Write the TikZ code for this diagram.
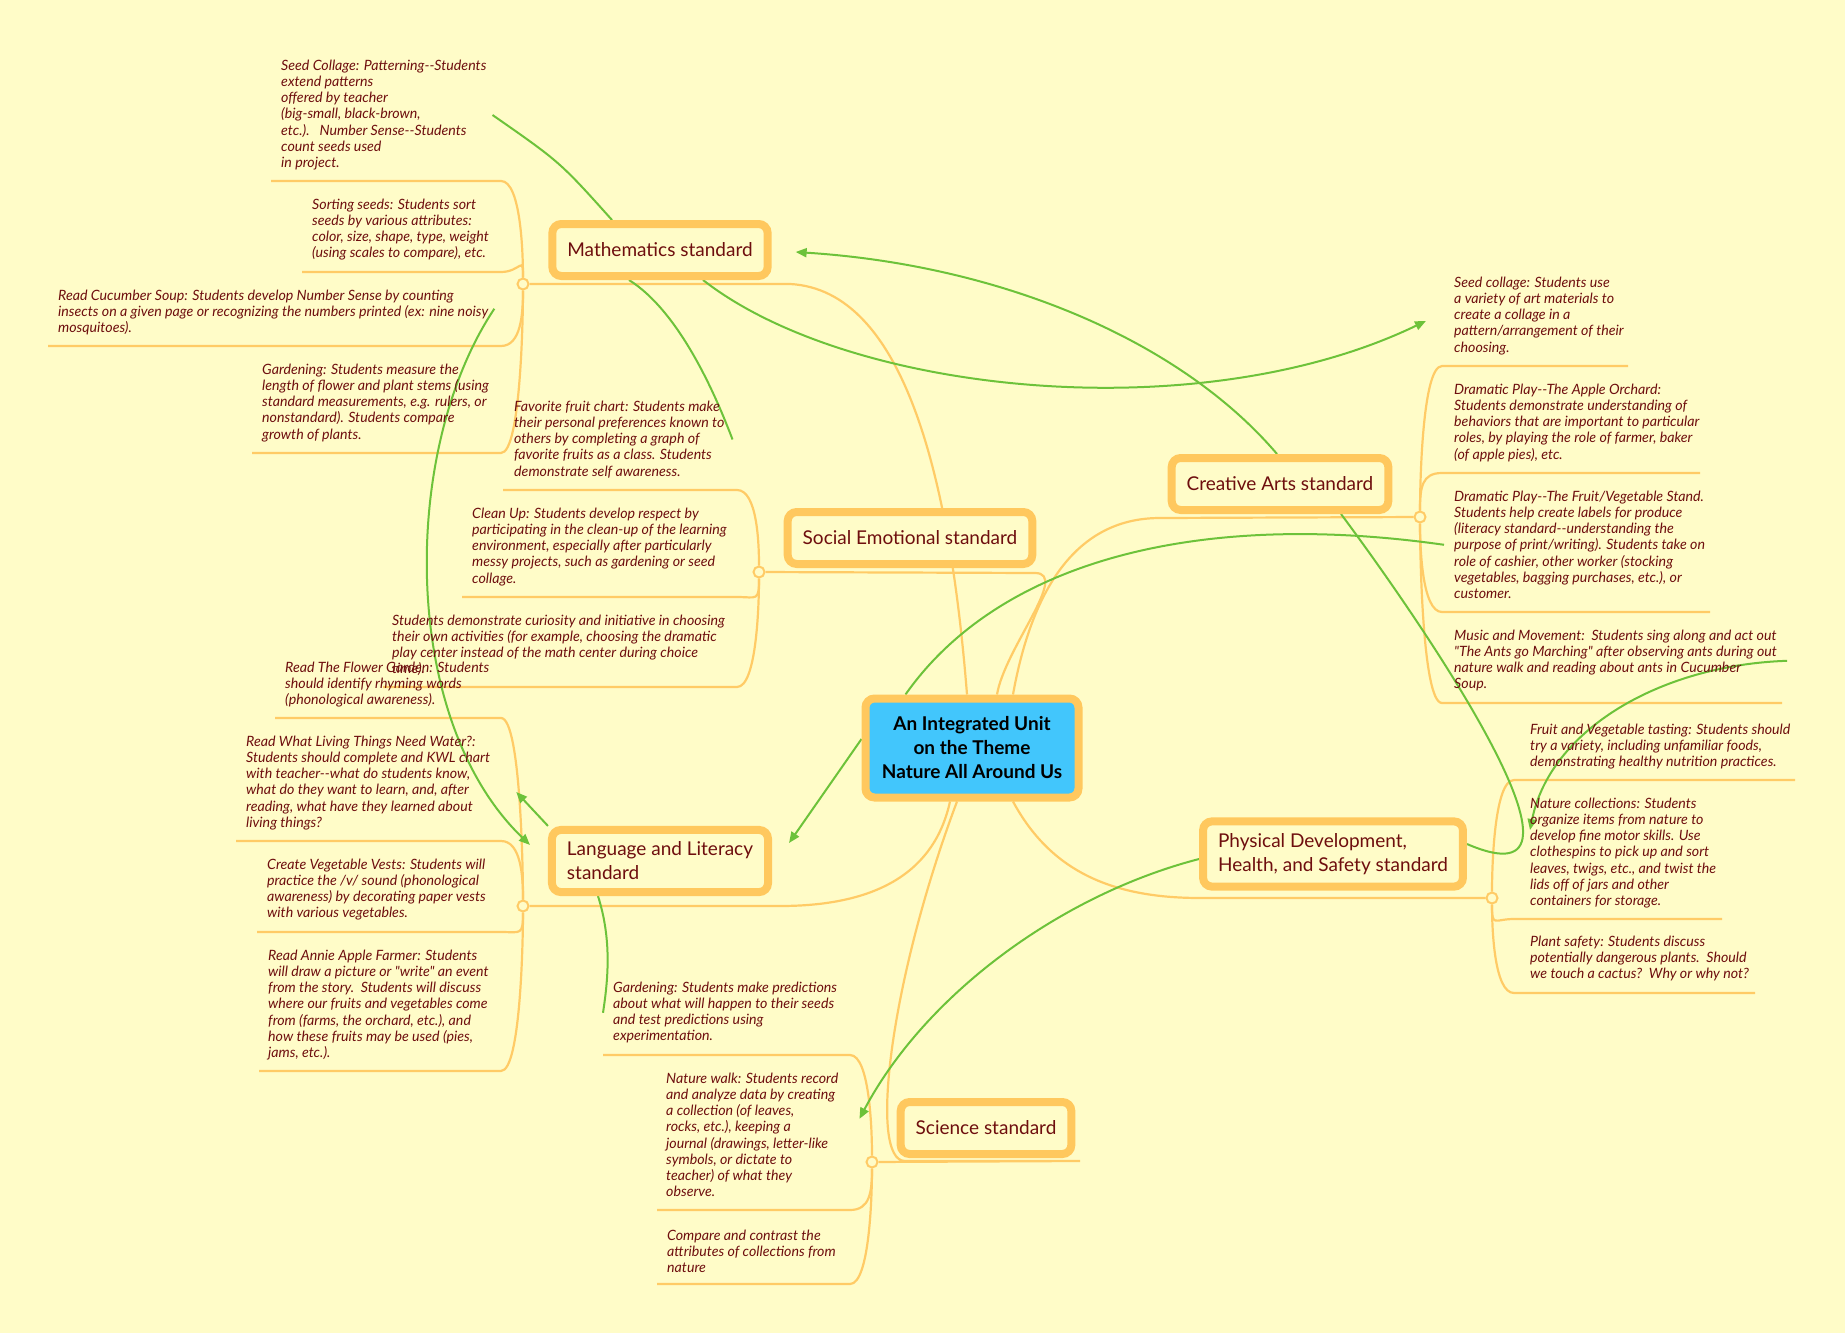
\documentclass[tikz,border=0pt]{standalone}
\usepackage{fontspec}
\setmainfont{Lato}
\newfontfamily\notefont{Lato}
\usetikzlibrary{arrows.meta}

\definecolor{bgyellow}{HTML}{FFFCC8}
\definecolor{boxorange}{HTML}{FFC85E}
\definecolor{branchorange}{HTML}{FFCB66}
\definecolor{textred}{HTML}{6E0E0E}
\definecolor{relgreen}{HTML}{6DC23A}
\definecolor{topicblue}{HTML}{42C6FC}

\pgfdeclarelayer{back}
\pgfdeclarelayer{lines}
\pgfsetlayers{back,lines,main}

\begin{document}
\begin{tikzpicture}[x=1pt,y=-1pt,
  stdbox/.style={draw=boxorange,line width=8pt,rounded corners=9pt,fill=bgyellow,text=textred,
    font=\fontsize{19}{24}\selectfont,inner xsep=15pt,inner ysep=12pt,minimum height=52pt,align=left},
  mainbox/.style={stdbox,fill=topicblue,text=black,font=\bfseries\fontsize{19}{24}\selectfont,
    align=center,minimum width=213pt,minimum height=99pt},
  itemtext/.style={anchor=north west,inner sep=0pt,text=textred,align=left,
    font=\notefont\itshape\fontsize{14.2}{16.1}\selectfont},
  branch/.style={draw=branchorange,line width=2.2pt},
  junc/.style={circle,draw=branchorange,line width=2pt,fill=bgyellow,minimum size=11pt,inner sep=0pt},
  rel/.style={draw=relgreen,line width=2pt},
  relarrow/.style={rel,-{Triangle[length=11pt,width=9pt]}}]

\begin{pgfonlayer}{back}
\fill[bgyellow] (0,0) rectangle (1845,1333);
\end{pgfonlayer}
\useasboundingbox (0,0) rectangle (1845,1333);

% central topic and the standards
\node[mainbox] (main) at (972,748) {An Integrated Unit\\on the Theme\\Nature All Around Us};
\node[stdbox] (math) at (660,250) {Mathematics standard};
\node[stdbox] (social) at (910,538) {Social Emotional standard};
\node[stdbox] (lang) at (660,861) {Language and Literacy\\standard};
\node[stdbox] (science) at (986,1128) {Science standard};
\node[stdbox] (arts) at (1280,484) {Creative Arts standard};
\node[stdbox] (phys) at (1333,854) {Physical Development,\\Health, and Safety standard};

% junctions
\node[junc] (mj) at (523,284) {};
\node[junc] (sj) at (759,572) {};
\node[junc] (lj) at (523,906) {};
\node[junc] (cj) at (872,1162) {};
\node[junc] (aj) at (1420,517) {};
\node[junc] (pj) at (1492,898) {};

% Mathematics
\node[itemtext] (m1) at (281,60) {Seed Collage: Patterning--Students\\extend patterns\\offered by teacher\\(big-small, black-brown,\\etc.).\ \ \ Number Sense--Students\\count seeds used\\in project.};
\node[itemtext] (m2) at (312,199) {Sorting seeds: Students sort\\seeds by various attributes:\\color, size, shape, type, weight\\(using scales to compare), etc.};
\node[itemtext] (m3) at (58,290) {Read Cucumber Soup: Students develop Number Sense by counting\\insects on a given page or recognizing the numbers printed (ex: nine noisy\\mosquitoes).};
\node[itemtext] (m4) at (262,364) {Gardening: Students measure the\\length of flower and plant stems (using\\standard measurements, e.g. rulers, or\\nonstandard). Students compare\\growth of plants.};

% Social Emotional
\node[itemtext] (s1) at (514,401) {Favorite fruit chart: Students make\\their personal preferences known to\\others by completing a graph of\\favorite fruits as a class. Students\\demonstrate self awareness.};
\node[itemtext] (s2) at (472,508) {Clean Up: Students develop respect by\\participating in the clean-up of the learning\\environment, especially after particularly\\messy projects, such as gardening or seed\\collage.};
\node[itemtext] (s3) at (392,615) {Students demonstrate curiosity and initiative in choosing\\their own activities (for example, choosing the dramatic\\play center instead of the math center during choice\\time).};

% Language and Literacy
\node[itemtext] (l1) at (285,662) {Read The Flower Garden: Students\\should identify rhyming words\\(phonological awareness).};
\node[itemtext] (l2) at (246,736) {Read What Living Things Need Water?:\\Students should complete and KWL chart\\with teacher--what do students know,\\what do they want to learn, and, after\\reading, what have they learned about\\living things?};
\node[itemtext] (l3) at (267,859) {Create Vegetable Vests: Students will\\practice the /v/ sound (phonological\\awareness) by decorating paper vests\\with various vegetables.};
\node[itemtext] (l4) at (268,950) {Read Annie Apple Farmer: Students\\will draw a picture or "write" an event\\from the story.\ \ Students will discuss\\where our fruits and vegetables come\\from (farms, the orchard, etc.), and\\how these fruits may be used (pies,\\jams, etc.).};

% Science
\node[itemtext] (c1) at (613,982) {Gardening: Students make predictions\\about what will happen to their seeds\\and test predictions using\\experimentation.};
\node[itemtext] (c2) at (666,1073) {Nature walk: Students record\\and analyze data by creating\\a collection (of leaves,\\rocks, etc.), keeping a\\journal (drawings, letter-like\\symbols, or dictate to\\teacher) of what they\\observe.};
\node[itemtext] (c3) at (667,1230) {Compare and contrast the\\attributes of collections from\\nature};

% Creative Arts
\node[itemtext] (a1) at (1454,277) {Seed collage: Students use\\a variety of art materials to\\create a collage in a\\pattern/arrangement of their\\choosing.};
\node[itemtext] (a2) at (1454,384) {Dramatic Play--The Apple Orchard:\\Students demonstrate understanding of\\behaviors that are important to particular\\roles, by playing the role of farmer, baker\\(of apple pies), etc.};
\node[itemtext] (a3) at (1454,491) {Dramatic Play--The Fruit/Vegetable Stand.\\Students help create labels for produce\\(literacy standard--understanding the\\purpose of print/writing). Students take on\\role of cashier, other worker (stocking\\vegetables, bagging purchases, etc.), or\\customer.};
\node[itemtext] (a4) at (1454,630) {Music and Movement:\ \ Students sing along and act out\\"The Ants go Marching" after observing ants during out\\nature walk and reading about ants in Cucumber\\Soup.};

% Physical Development
\node[itemtext] (p1) at (1530,724) {Fruit and Vegetable tasting: Students should\\try a variety, including unfamiliar foods,\\demonstrating healthy nutrition practices.};
\node[itemtext] (p2) at (1530,798) {Nature collections: Students\\organize items from nature to\\develop fine motor skills. Use\\clothespins to pick up and sort\\leaves, twigs, etc., and twist the\\lids off of jars and other\\containers for storage.};
\node[itemtext] (p3) at (1530,936) {Plant safety: Students discuss\\potentially dangerous plants.\ \ Should\\we touch a cactus?\ \ Why or why not?};

% underline ends
\coordinate (m1-u) at (501,181); \coordinate (m1-l) at (271,181);
\coordinate (m2-u) at (501,272); \coordinate (m2-l) at (302,272);
\coordinate (m3-u) at (501,346); \coordinate (m3-l) at (48,346);
\coordinate (m4-u) at (501,453); \coordinate (m4-l) at (252,453);
\coordinate (s1-u) at (737,490); \coordinate (s1-l) at (503,490);
\coordinate (s2-u) at (737,597); \coordinate (s2-l) at (462,597);
\coordinate (s3-u) at (737,687); \coordinate (s3-l) at (383,687);
\coordinate (l1-u) at (501,718); \coordinate (l1-l) at (275,718);
\coordinate (l2-u) at (501,841); \coordinate (l2-l) at (236,841);
\coordinate (l3-u) at (501,932); \coordinate (l3-l) at (257,932);
\coordinate (l4-u) at (501,1071); \coordinate (l4-l) at (259,1071);
\coordinate (c1-u) at (850,1055); \coordinate (c1-l) at (603,1055);
\coordinate (c2-u) at (850,1210); \coordinate (c2-l) at (657,1210);
\coordinate (c3-u) at (850,1284); \coordinate (c3-l) at (657,1284);
\coordinate (a1-u) at (1442,366); \coordinate (a1-l) at (1628,366);
\coordinate (a2-u) at (1442,473); \coordinate (a2-l) at (1700,473);
\coordinate (a3-u) at (1442,612); \coordinate (a3-l) at (1710,612);
\coordinate (a4-u) at (1442,703); \coordinate (a4-l) at (1782,703);
\coordinate (p1-u) at (1514,780); \coordinate (p1-l) at (1795,780);
\coordinate (p2-u) at (1514,919); \coordinate (p2-l) at (1722,919);
\coordinate (p3-u) at (1514,993); \coordinate (p3-l) at (1755,993);

\begin{pgfonlayer}{lines}
% topic connectors and underlines
\draw[branch] ([xshift=-5pt]main.north) .. controls (950,480) and (905,290) .. (790,284) -- (mj);
\draw[branch] ([xshift=25pt]main.north) .. controls (1005,648) and (1070,573) .. (1035,573) -- (sj);
\draw[branch] ([xshift=41pt]main.north) .. controls (1030,600) and (1070,518) .. (1160,518) -- (aj);
\draw[branch] ([xshift=-22pt]main.south) .. controls (935,870) and (880,906) .. (780,906) -- (lj);
\draw[branch] ([xshift=-15pt]main.south) .. controls (890,980) and (868,1161) .. (905,1161) -- (1080,1161) -- (cj);
\draw[branch] ([xshift=41pt]main.south) .. controls (1050,870) and (1110,898) .. (1200,898) -- (pj);

% item branches
\foreach \n in {m1,m2} \draw[branch] (mj) .. controls +(0,-30) and +(20,0) .. (\n-u) -- (\n-l);
\foreach \n in {m3,m4} \draw[branch] (mj) .. controls +(0,30) and +(20,0) .. (\n-u) -- (\n-l);
\foreach \n in {s1} \draw[branch] (sj) .. controls +(0,-30) and +(20,0) .. (\n-u) -- (\n-l);
\foreach \n in {s2,s3} \draw[branch] (sj) .. controls +(0,30) and +(20,0) .. (\n-u) -- (\n-l);
\foreach \n in {l1,l2} \draw[branch] (lj) .. controls +(0,-30) and +(20,0) .. (\n-u) -- (\n-l);
\foreach \n in {l3,l4} \draw[branch] (lj) .. controls +(0,30) and +(20,0) .. (\n-u) -- (\n-l);
\foreach \n in {c1} \draw[branch] (cj) .. controls +(0,-30) and +(20,0) .. (\n-u) -- (\n-l);
\foreach \n in {c2,c3} \draw[branch] (cj) .. controls +(0,30) and +(20,0) .. (\n-u) -- (\n-l);
\foreach \n in {a1,a2} \draw[branch] (aj) .. controls +(0,-30) and +(-20,0) .. (\n-u) -- (\n-l);
\foreach \n in {a3,a4} \draw[branch] (aj) .. controls +(0,30) and +(-20,0) .. (\n-u) -- (\n-l);
\foreach \n in {p1} \draw[branch] (pj) .. controls +(0,-30) and +(-20,0) .. (\n-u) -- (\n-l);
\foreach \n in {p2,p3} \draw[branch] (pj) .. controls +(0,30) and +(-20,0) .. (\n-u) -- (\n-l);

% relationships
\draw[rel] ([xshift=-48pt]math.north) .. controls (560,162) .. ([xshift=6pt]m1.east);
\draw[rel] ([xshift=-31pt]math.south) .. controls (680,312) and (716,396) .. ([xshift=8pt]s1.east);
\draw[relarrow] ([xshift=43pt]math.south) .. controls (850,395) and (1200,430) .. ([xshift=-28pt,yshift=-5pt]a1.west);
\draw[relarrow] ([xshift=-3pt]arts.north) .. controls (1180,340) and (1000,265) .. ([xshift=24pt,yshift=-2pt]math.east);
\draw[rel] ([xshift=61pt]arts.south) .. controls (1420,620) and (1620,910) .. ([yshift=10pt]phys.east);
\draw[relarrow] ([yshift=-5pt]phys.west) .. controls (1060,895) and (925,995) .. ([xshift=21pt,yshift=16pt]c2.east);
\draw[rel] ([xshift=44pt]main.north west) .. controls (1000,560) and (1200,510) .. ([xshift=-10pt]a3.west);
\draw[relarrow] ([yshift=9pt]main.west) -- ([xshift=17pt,yshift=18pt]lang.east);
\draw[relarrow] ([xshift=6pt,yshift=4pt]m3.east) .. controls (400,450) and (400,720) .. ([xshift=-18pt,yshift=-19pt]lang.north west);
\draw[relarrow] (lang.north west) -- ([xshift=26pt,yshift=-9pt]l2.east);
\draw[rel] ([xshift=-62pt]lang.south) .. controls (612,940) and (608,980) .. ([xshift=-10pt]c1.west);
\draw[relarrow] ([xshift=10pt]a4.east) .. controls (1660,665) and (1550,730) .. ([yshift=23pt]p2.west);
\end{pgfonlayer}
\end{tikzpicture}
\end{document}
